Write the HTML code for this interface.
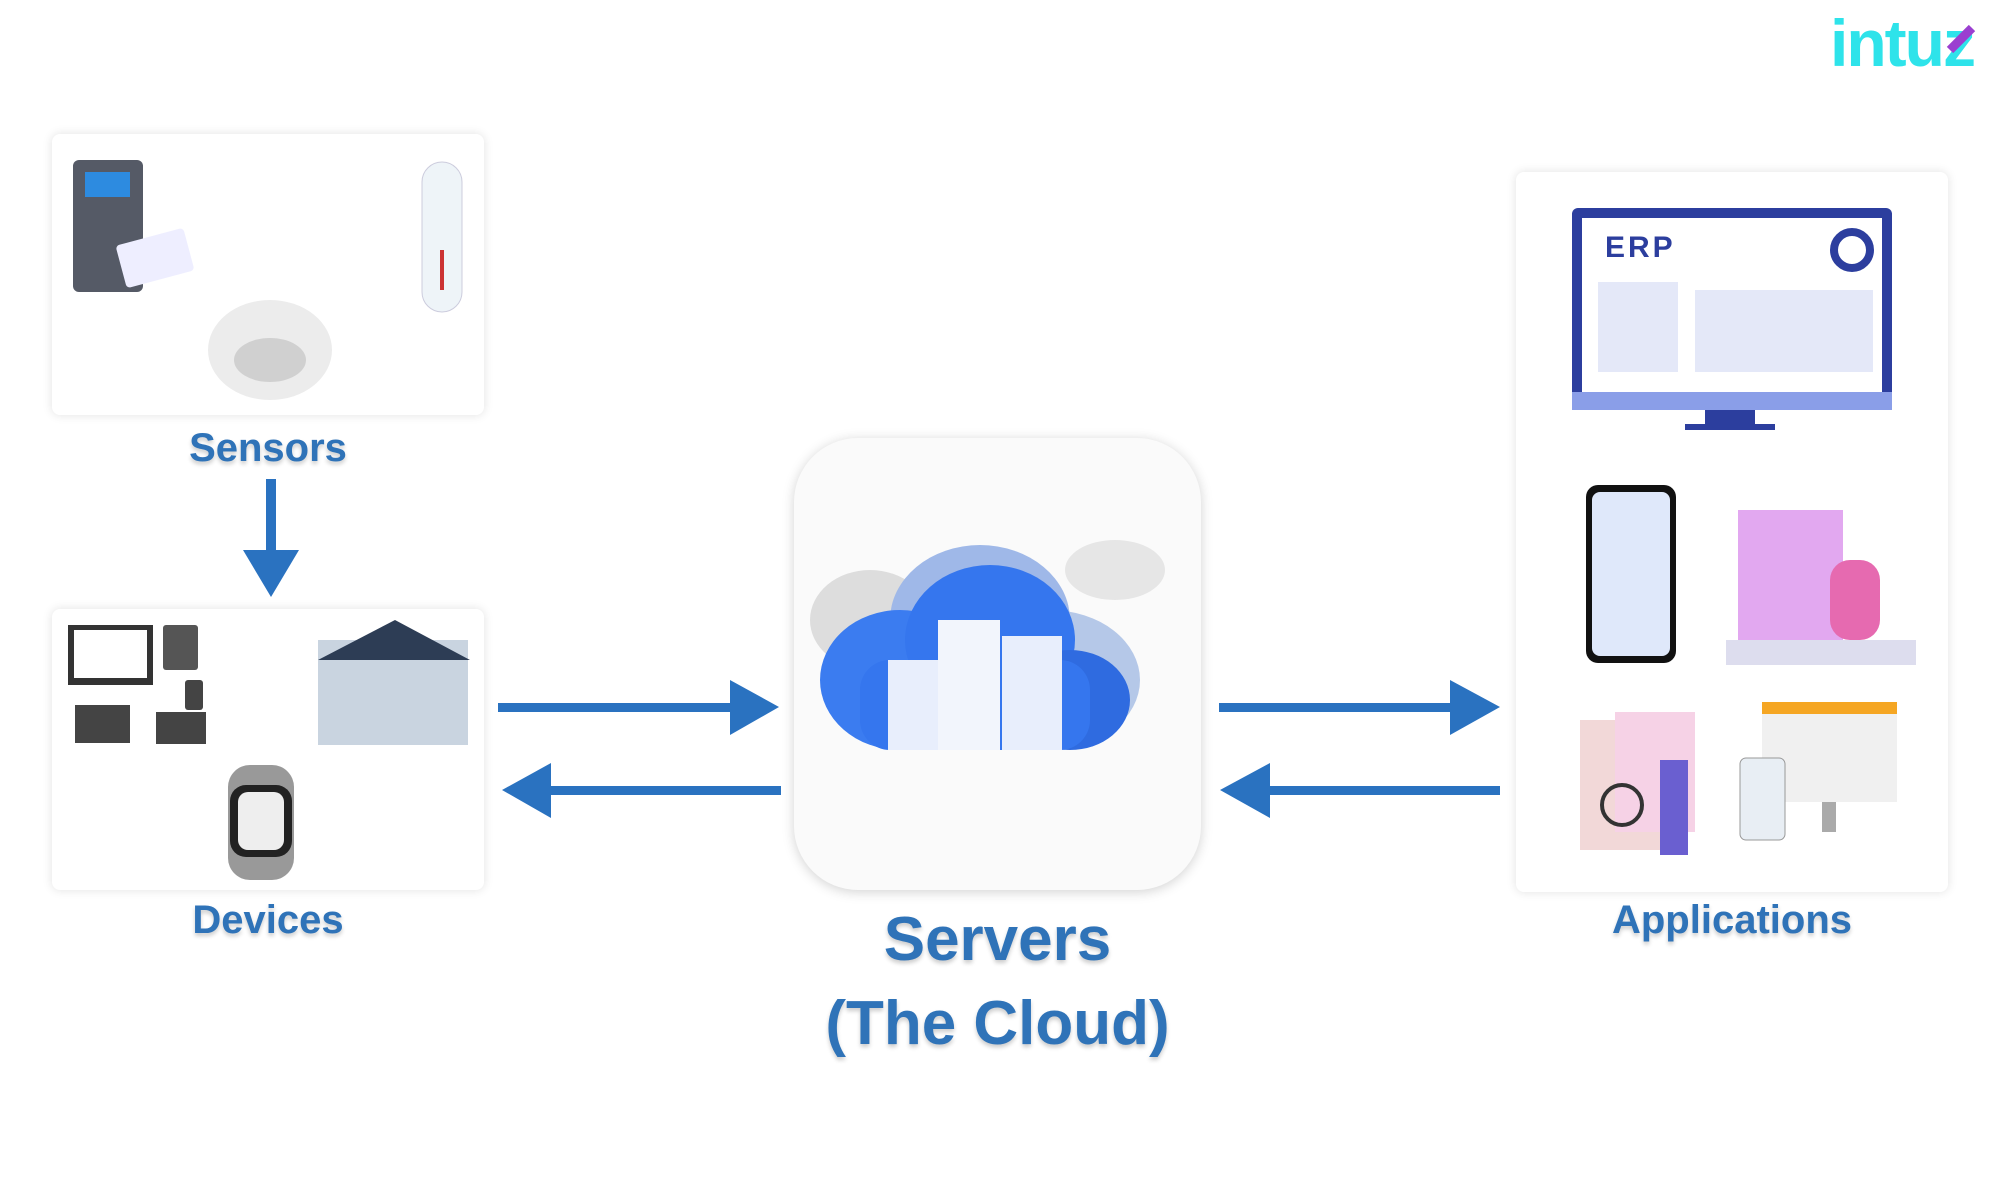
<!DOCTYPE html>
<html><head><meta charset="utf-8"><style>
body{margin:0;width:2000px;height:1200px;background:#fff;position:relative;overflow:hidden;font-family:"Liberation Sans",sans-serif}
.box{position:absolute;background:#fff;border-radius:8px;box-shadow:0 0 10px rgba(0,0,0,0.12)}
.lbl{position:absolute;color:#2f73b8;font-weight:bold;text-align:center;text-shadow:0 3px 4px rgba(0,0,0,0.2)}
</style></head><body>
<div class="box" style="left:52px;top:134px;width:432px;height:281px"></div>
<div class="box" style="left:52px;top:609px;width:432px;height:281px"></div>
<div class="box" style="left:1516px;top:172px;width:432px;height:720px"></div>
<div class="box" style="left:794px;top:438px;width:407px;height:452px;border-radius:64px;background:#fafafa;box-shadow:0 2px 12px rgba(0,0,0,0.18)"></div>

<div class="lbl" style="left:52px;width:432px;top:426px;font-size:40px">Sensors</div>
<div class="lbl" style="left:52px;width:432px;top:898px;font-size:40px">Devices</div>
<div class="lbl" style="left:1516px;width:432px;top:898px;font-size:40px">Applications</div>
<div class="lbl" style="left:794px;width:407px;top:898px;font-size:62px;line-height:84px">Servers<br>(The Cloud)</div>

<svg width="2000" height="1200" style="position:absolute;left:0;top:0">
<g fill="#2a72c0">
<rect x="266" y="479" width="10" height="75"/><polygon points="243,550 299,550 271,597"/>
<rect x="498" y="703" width="240" height="9"/><polygon points="730,680 779,707 730,735"/>
<rect x="545" y="786" width="236" height="9"/><polygon points="502,790 551,763 551,818"/>
<rect x="1219" y="703" width="240" height="9"/><polygon points="1450,680 1500,707 1450,735"/>
<rect x="1268" y="786" width="232" height="9"/><polygon points="1220,790 1270,763 1270,818"/>
</g>
<!-- intuz logo -->
<text x="1830" y="66" font-family="Liberation Sans,sans-serif" font-size="66" fill="#2ee3ea" font-weight="bold" letter-spacing="-2">intuz</text>
<line x1="1950" y1="50" x2="1972" y2="28" stroke="#9b3fd0" stroke-width="9"/>
<!-- cloud -->
<g>
<ellipse cx="870" cy="620" rx="60" ry="50" fill="#ddd"/>
<ellipse cx="1115" cy="570" rx="50" ry="30" fill="#e6e6e6"/>
<ellipse cx="1050" cy="680" rx="90" ry="70" fill="#b5c8e8"/>
<ellipse cx="980" cy="620" rx="90" ry="75" fill="#9fb8e8"/>
<ellipse cx="900" cy="680" rx="80" ry="70" fill="#3b7cf0"/>
<ellipse cx="990" cy="640" rx="85" ry="75" fill="#3576ee"/>
<ellipse cx="1070" cy="700" rx="60" ry="50" fill="#2f6be0"/>
<rect x="860" y="660" width="230" height="90" fill="#3576ee" rx="30"/>
<rect x="888" y="660" width="50" height="90" fill="#e8eefc"/>
<rect x="938" y="620" width="62" height="130" fill="#f2f5fc"/>
<rect x="1002" y="636" width="60" height="114" fill="#e8eefc"/>
</g>
<!-- sensors icons -->
<rect x="73" y="160" width="70" height="132" rx="6" fill="#555a66"/>
<rect x="85" y="172" width="45" height="25" fill="#2d8be0"/>
<rect x="120" y="236" width="70" height="44" rx="4" fill="#eef" transform="rotate(-15 155 258)"/>
<rect x="422" y="162" width="40" height="150" rx="20" fill="#eef4f8" stroke="#ccd" />
<rect x="440" y="250" width="4" height="40" fill="#c33"/>
<ellipse cx="270" cy="350" rx="62" ry="50" fill="#ececec"/>
<ellipse cx="270" cy="360" rx="36" ry="22" fill="#d0d0d0"/>
<!-- devices icons -->
<rect x="68" y="625" width="85" height="60" fill="#333"/><rect x="74" y="630" width="73" height="48" fill="#fff"/>
<rect x="163" y="625" width="35" height="45" rx="3" fill="#555"/>
<rect x="75" y="705" width="55" height="38" fill="#444"/><rect x="156" y="712" width="50" height="32" fill="#444"/>
<rect x="185" y="680" width="18" height="30" rx="3" fill="#444"/>
<rect x="318" y="640" width="150" height="105" fill="#c9d4e0"/><polygon points="318,660 395,620 470,660" fill="#2d3d55"/>
<rect x="228" y="765" width="66" height="115" rx="22" fill="#999"/><rect x="230" y="785" width="62" height="72" rx="16" fill="#222"/><rect x="238" y="792" width="46" height="58" rx="10" fill="#eee"/>
<!-- applications icons -->
<rect x="1572" y="208" width="320" height="200" rx="6" fill="#2c3e9e"/><rect x="1582" y="218" width="300" height="180" fill="#fff"/>
<rect x="1572" y="392" width="320" height="18" fill="#8a9ee8"/><rect x="1705" y="410" width="50" height="14" fill="#2c3e9e"/><rect x="1685" y="424" width="90" height="6" fill="#2c3e9e"/>
<text x="1605" y="257" font-size="30" font-weight="bold" fill="#2c3e9e" letter-spacing="3">ERP</text>
<rect x="1598" y="282" width="80" height="90" fill="#e4e8f8"/><rect x="1695" y="290" width="178" height="82" fill="#e4e8f8"/>
<circle cx="1852" cy="250" r="18" fill="none" stroke="#2c3e9e" stroke-width="8"/>
<rect x="1586" y="485" width="90" height="178" rx="12" fill="#111"/><rect x="1592" y="492" width="78" height="164" rx="8" fill="#dfe8fa"/>
<rect x="1738" y="510" width="105" height="130" fill="#e2a8f0"/><rect x="1726" y="640" width="190" height="25" fill="#dde"/>
<rect x="1830" y="560" width="50" height="80" rx="20" fill="#e66ab0"/>
<rect x="1580" y="720" width="80" height="130" fill="#f2d8d8"/><rect x="1615" y="712" width="80" height="120" fill="#f6d2e6"/>
<circle cx="1622" cy="805" r="20" fill="none" stroke="#333" stroke-width="4"/>
<rect x="1660" y="760" width="28" height="95" fill="#6a5fd0"/>
<rect x="1762" y="702" width="135" height="100" fill="#f0f0f0"/><rect x="1762" y="702" width="135" height="12" fill="#f5a623"/>
<rect x="1740" y="758" width="45" height="82" rx="6" fill="#e8eef4" stroke="#999"/>
<rect x="1822" y="802" width="14" height="30" fill="#aaa"/>
</svg>
</body></html>
